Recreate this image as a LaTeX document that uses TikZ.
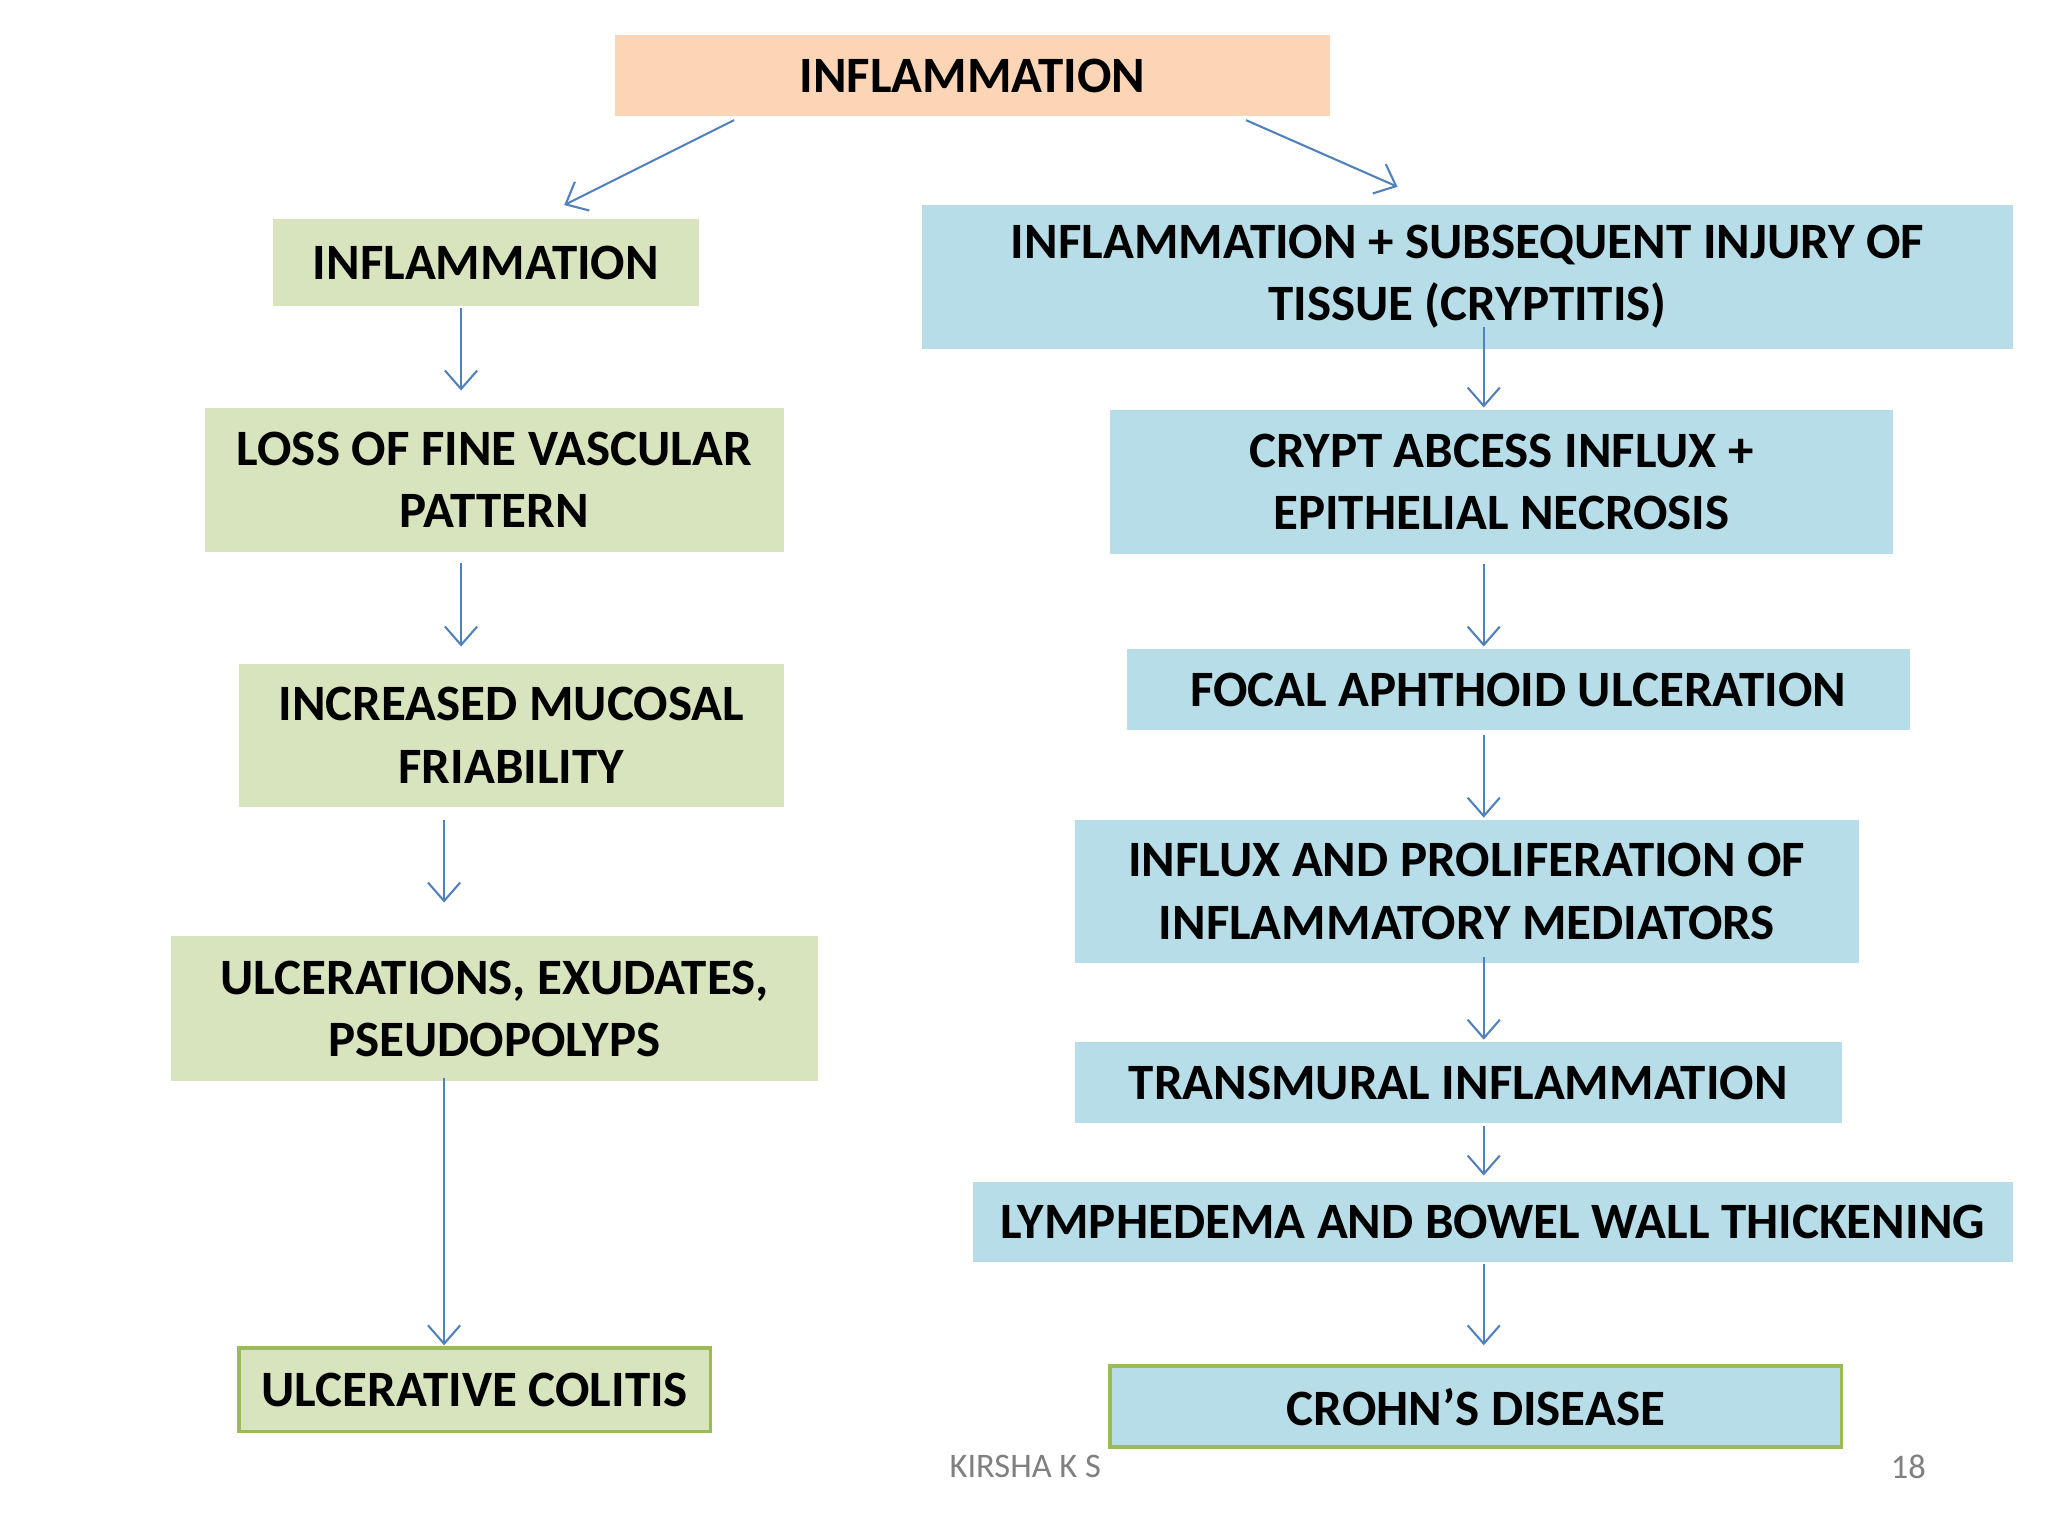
\documentclass[tikz,border=0pt]{standalone}
\usepackage{fontspec}
\setmainfont{Carlito}
\usetikzlibrary{arrows.meta}
\definecolor{peach}{HTML}{FBD5B5}
\definecolor{lgreen}{HTML}{D7E4BD}
\definecolor{lblue}{HTML}{B7DEE8}
\definecolor{arr}{HTML}{4F81BD}
\definecolor{gb}{HTML}{9BBB59}
\begin{document}
\begin{tikzpicture}[x=0.01cm,y=-0.01cm,
  txt/.style={font=\bfseries\fontsize{11.1}{13.6}\selectfont,align=center},
  box/.style={txt,inner sep=0pt},
  ar/.style={draw=arr,line width=0.45pt,-{Straight Barb[length=4pt,width=7pt]}}]
\useasboundingbox[fill=white] (0,0) rectangle (1568,1176);
\newcommand\bx[7]{\fill[#6] (#2,#3) rectangle (#4,#5); \node[box] (#1) at ({(#2+#4)/2},{(#3+#5)/2}) {#7};}
\bx{top}{471}{27}{1018}{89}{peach}{INFLAMMATION}
\bx{l1}{209}{168}{535}{234}{lgreen}{INFLAMMATION}
\bx{l2}{157}{312}{600}{423}{lgreen}{LOSS OF FINE VASCULAR\\PATTERN}
\bx{l3}{183}{508}{600}{618}{lgreen}{INCREASED MUCOSAL\\FRIABILITY}
\bx{l4}{131}{717}{626}{828}{lgreen}{ULCERATIONS, EXUDATES,\\PSEUDOPOLYPS}
\bx{l5}{183}{1032}{544}{1096}{lgreen}{ULCERATIVE COLITIS}
\draw[gb,line width=0.8pt] (183,1032) rectangle (544,1096);
\bx{r1}{706}{157}{1541}{267}{lblue}{INFLAMMATION + SUBSEQUENT INJURY OF\\TISSUE (CRYPTITIS)}
\bx{r2}{850}{314}{1449}{424}{lblue}{CRYPT ABCESS INFLUX +\\EPITHELIAL NECROSIS}
\bx{r3}{863}{497}{1462}{559}{lblue}{FOCAL APHTHOID ULCERATION}
\bx{r4}{823}{628}{1423}{737}{lblue}{INFLUX AND PROLIFERATION OF\\INFLAMMATORY MEDIATORS}
\bx{r5}{823}{798}{1410}{860}{lblue}{TRANSMURAL INFLAMMATION}
\bx{r6}{745}{905}{1541}{966}{lblue}{LYMPHEDEMA AND BOWEL WALL THICKENING}
\bx{r7}{850}{1046}{1410}{1108}{lblue}{CROHN’S DISEASE}
\draw[gb,line width=0.8pt] (850,1046) rectangle (1410,1108);
\coordinate (a1) at (562,92); \coordinate (b1) at (432,157);
\coordinate (a2) at (954,92); \coordinate (b2) at (1070,143);
\draw[ar] (a1) -- (b1); \draw[ar] (a2) -- (b2);
\foreach \x/\ya/\yb [count=\i] in {353/236/299,353/431/495,340/628/691,340/825/1030,1136/250/312,1136/432/495,1136/563/626,1136/733/796,1136/862/900,1136/968/1030}{
  \coordinate (s\i) at (\x,\ya); \coordinate (e\i) at (\x,\yb); \draw[ar] (s\i) -- (e\i);}
\node[font=\fontsize{7.5}{9}\selectfont,text=gray] (ft) at (785,1123) {KIRSHA K S};
\node[font=\fontsize{7.5}{9}\selectfont,text=gray] (pg) at (1461,1123) {18};
\end{tikzpicture}
\end{document}
